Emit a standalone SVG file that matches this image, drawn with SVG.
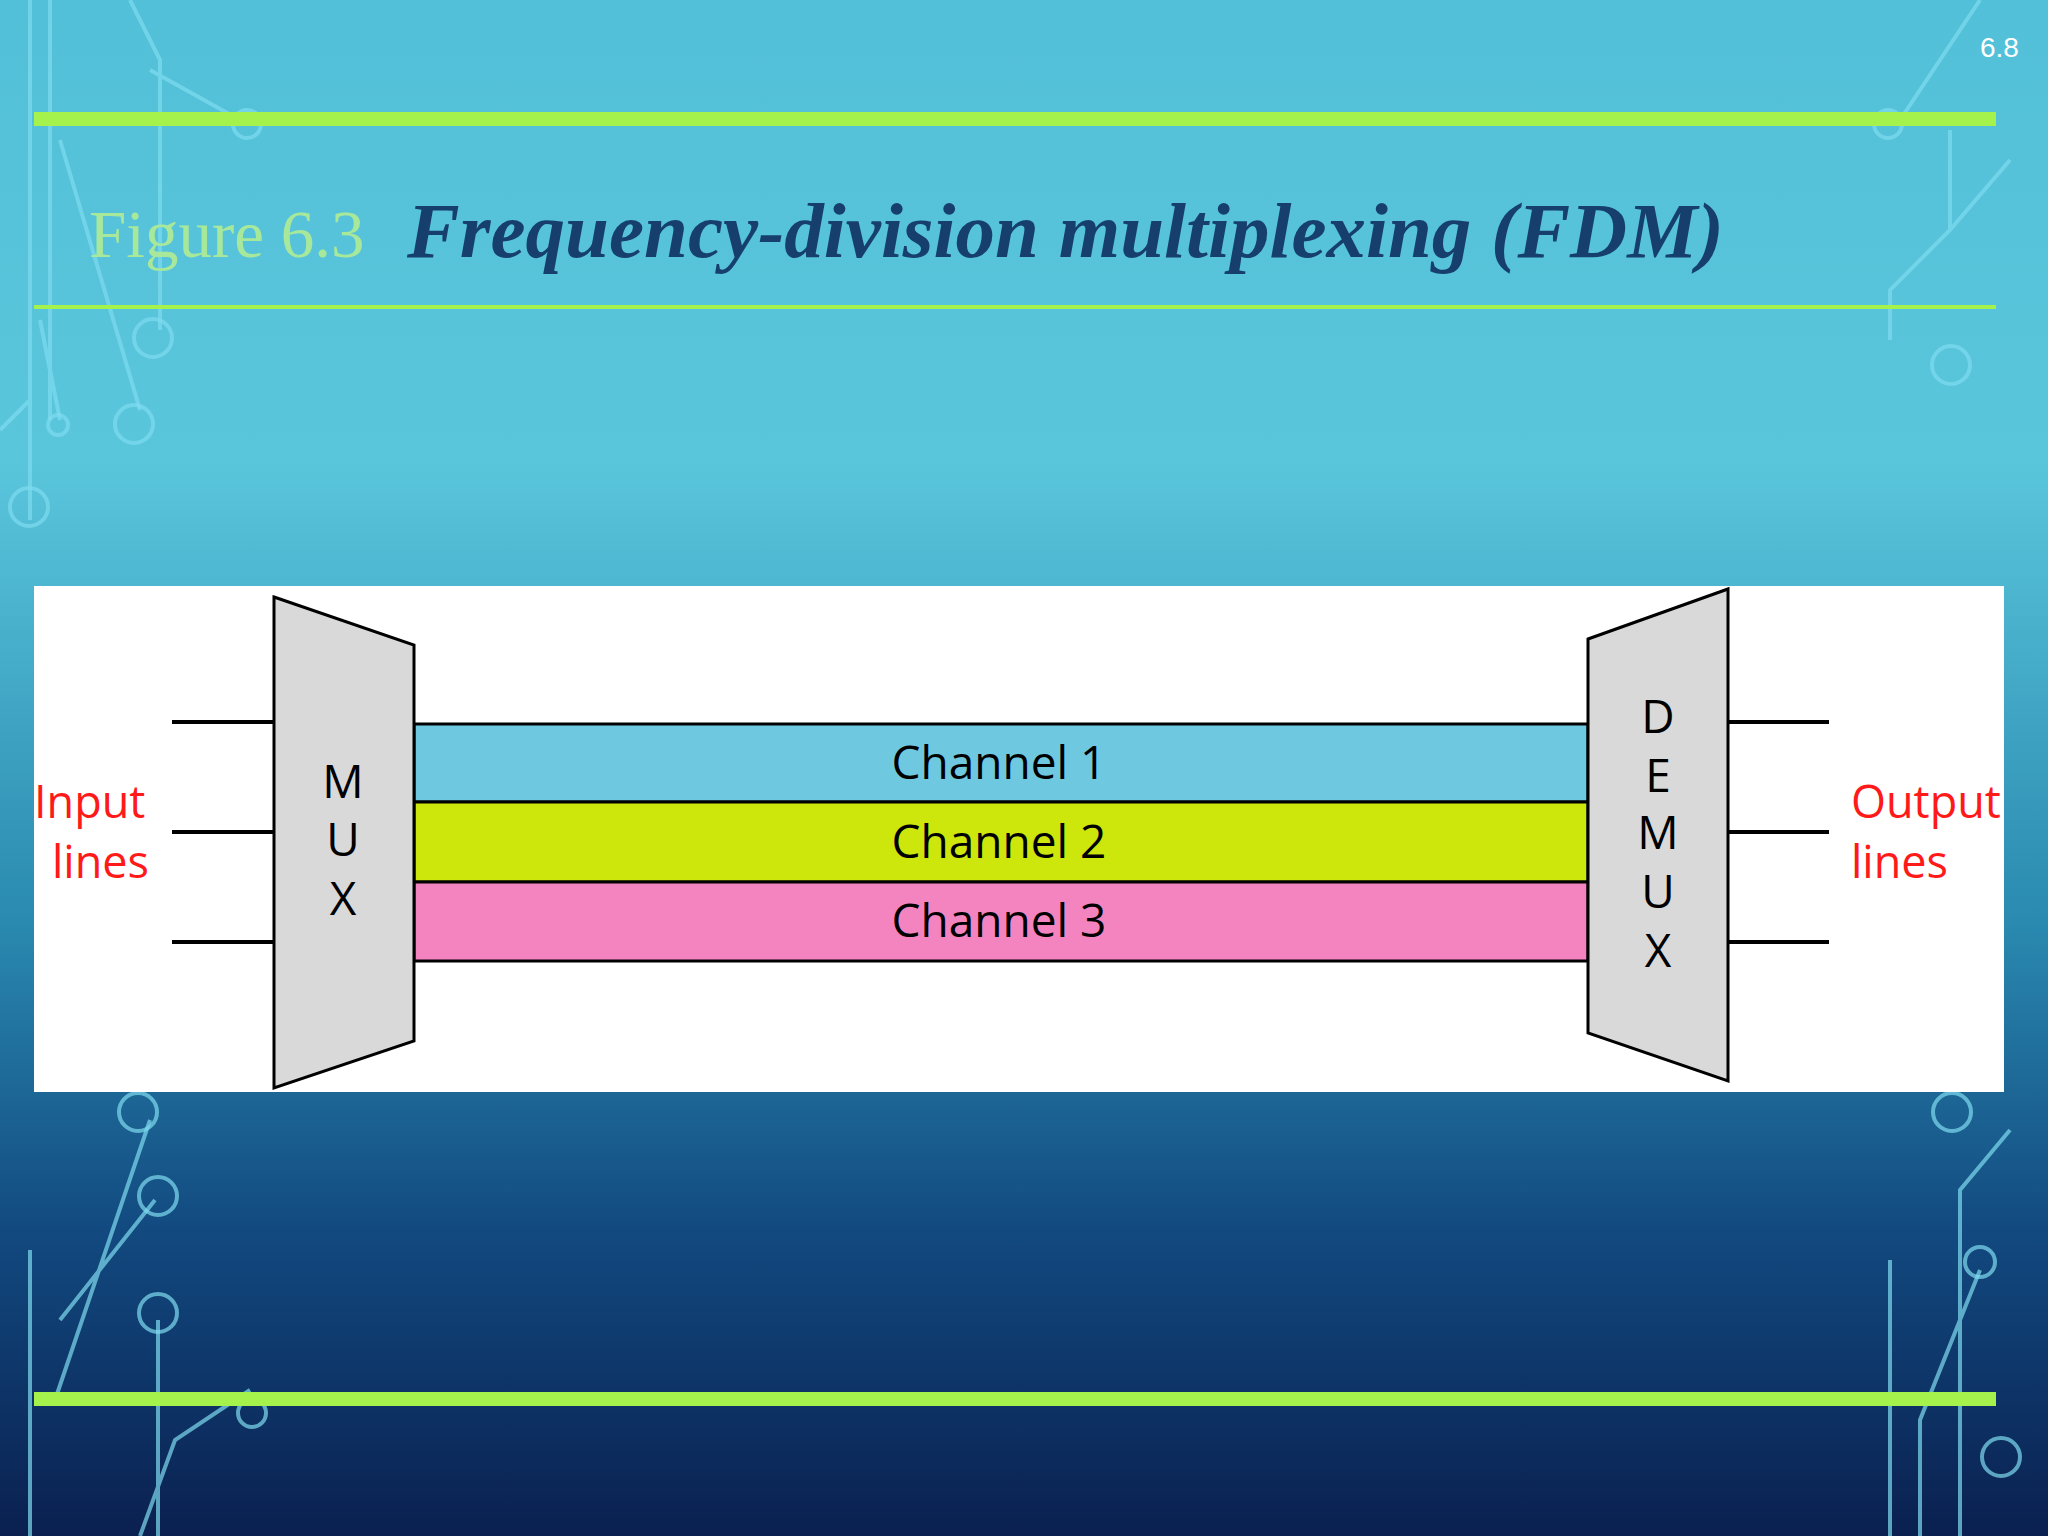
<svg xmlns="http://www.w3.org/2000/svg" width="2048" height="1536" viewBox="0 0 2048 1536">
<defs>
<linearGradient id="bg" x1="0" y1="0" x2="0" y2="1">
<stop offset="0" stop-color="#52c0d8"/>
<stop offset="0.3" stop-color="#5ac6dc"/>
<stop offset="0.6" stop-color="#2a8ab0"/>
<stop offset="0.8" stop-color="#124a80"/>
<stop offset="1" stop-color="#0a2050"/>
</linearGradient>
<style>
.ck{fill:none;stroke:#7fdcef;stroke-width:4;opacity:0.7}
.ln{stroke:#000;stroke-width:4}
.box{fill:#d9d9d9;stroke:#000;stroke-width:3}
.lt{font-family:"Open Sans","Noto Sans",sans-serif;font-size:46px;fill:#000;text-anchor:middle}
.red{font-family:"Open Sans","Noto Sans",sans-serif;font-size:45px;fill:#ff1a1a}
</style>
</defs>
<rect width="2048" height="1536" fill="url(#bg)"/>
<g id="circuit">
<path class="ck" d="M30 0V520M50 0V420M130 0L160 60V330M150 70L240 120M60 140L140 410M40 320L60 420M0 430L30 400M30 1536V1250M140 1536L175 1440L250 1390M55 1400L150 1120M60 1320L155 1200M158 1320V1536M1980 0L1900 120M1950 130V230L1890 290V340M1950 230L2010 160M2010 1130L1960 1190V1536M1980 1270L1920 1420V1536M1890 1260V1536"/>
<circle class="ck" cx="247" cy="124" r="14"/><circle class="ck" cx="153" cy="338" r="19"/><circle class="ck" cx="134" cy="424" r="19"/><circle class="ck" cx="58" cy="425" r="10"/><circle class="ck" cx="29" cy="507" r="19"/>
<circle class="ck" cx="1888" cy="124" r="14"/><circle class="ck" cx="1951" cy="365" r="19"/>
<circle class="ck" cx="138" cy="1112" r="19"/><circle class="ck" cx="158" cy="1196" r="19"/><circle class="ck" cx="158" cy="1313" r="19"/><circle class="ck" cx="252" cy="1413" r="14"/>
<circle class="ck" cx="1952" cy="1112" r="19"/><circle class="ck" cx="1980" cy="1262" r="15"/><circle class="ck" cx="2001" cy="1457" r="19"/>
</g>
<rect x="34" y="112" width="1962" height="14" fill="#a6f24c"/>
<rect x="34" y="305" width="1962" height="4" fill="#a6f24c"/>
<rect x="34" y="1392" width="1962" height="14" fill="#a6f24c"/>
<text x="1980" y="57" font-family="Liberation Sans,sans-serif" font-size="28" fill="#fff">6.8</text>
<text x="89" y="257" font-family="Liberation Serif,serif" font-size="67" fill="#a8e89a">Figure 6.3</text>
<text x="407" y="257" font-family="Liberation Serif,serif" font-size="79" font-weight="bold" font-style="italic" fill="#173f6e">Frequency-division multiplexing (FDM)</text>
<rect x="34" y="586" width="1970" height="506" fill="#fff"/>
<g id="connectors">
<line class="ln" x1="172" y1="722" x2="274" y2="722"/><line class="ln" x1="172" y1="832" x2="274" y2="832"/><line class="ln" x1="172" y1="942" x2="274" y2="942"/>
<line class="ln" x1="1728" y1="722" x2="1829" y2="722"/><line class="ln" x1="1728" y1="832" x2="1829" y2="832"/><line class="ln" x1="1728" y1="942" x2="1829" y2="942"/>
</g>
<g id="ch1"><rect x="414" y="724" width="1174" height="78" fill="#6ec9e0" stroke="#000" stroke-width="3"/><text class="lt" x="999" y="779">Channel 1</text></g>
<g id="ch2"><rect x="414" y="802" width="1174" height="80" fill="#cde60b" stroke="#000" stroke-width="3"/><text class="lt" x="999" y="858">Channel 2</text></g>
<g id="ch3"><rect x="414" y="882" width="1174" height="79" fill="#f484c0" stroke="#000" stroke-width="3"/><text class="lt" x="999" y="937">Channel 3</text></g>
<g id="mux"><polygon class="box" points="274,597 414,645 414,1041 274,1088"/>
<text class="lt" x="343" y="798">M</text><text class="lt" x="343" y="856">U</text><text class="lt" x="343" y="915">X</text></g>
<g id="demux"><polygon class="box" points="1588,639 1728,589 1728,1081 1588,1033"/>
<text class="lt" x="1658" y="733">D</text><text class="lt" x="1658" y="792">E</text><text class="lt" x="1658" y="849">M</text><text class="lt" x="1658" y="908">U</text><text class="lt" x="1658" y="967">X</text></g>
<g id="input"><text class="red" x="34" y="818">Input</text><text class="red" x="52" y="878">lines</text></g>
<g id="output"><text class="red" x="1851" y="818">Output</text><text class="red" x="1851" y="878">lines</text></g>
</svg>
